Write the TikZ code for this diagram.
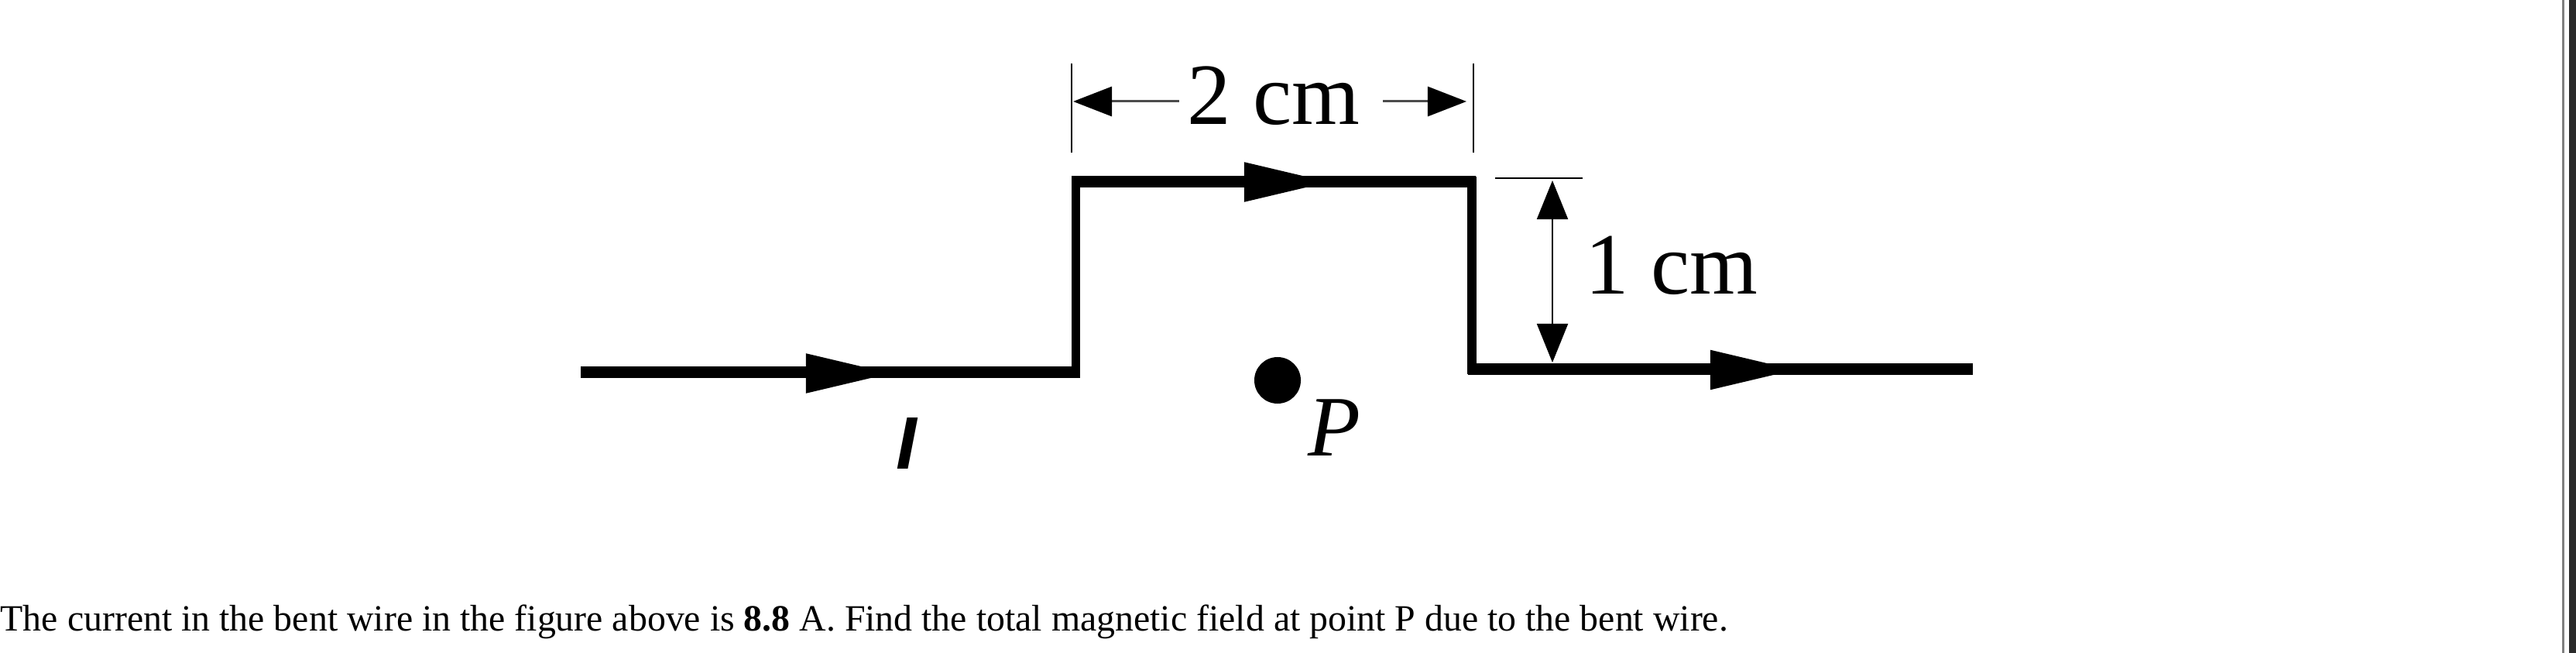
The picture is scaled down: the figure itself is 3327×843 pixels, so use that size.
\documentclass[tikz,border=0pt]{standalone}
\usepackage{fontspec}
\setmainfont{Liberation Serif}
\setsansfont{Liberation Sans}
\usetikzlibrary{arrows.meta}

\tikzset{
  wireh/.style={line width=0.14cm},
  wirev/.style={line width=0.112cm},
  wirehead/.style={-{Triangle[length=1.09cm,width=0.51cm]}, line width=0.02cm},
  dimhead/.style={-{Triangle[length=0.5cm,width=0.38cm,color=black]}, line width=0.03cm, black!70},
  tickline/.style={line width=0.02cm},
  dimlabel/.style={anchor=base west, inner sep=0pt, font=\fontsize{32.1}{36}\selectfont},
  pointdot/.style={circle, fill=black, inner sep=0pt, minimum size=0.6cm},
}

\begin{document}
\begin{tikzpicture}[x=0.01cm, y=-0.01cm]
    \useasboundingbox (0, 0) rectangle (3327, 843);

    % the bent wire
    \coordinate (inL) at (750, 480.5);
    \coordinate (inR) at (1395, 480.5);
    \coordinate (topL) at (1384, 234.5);
    \coordinate (topR) at (1906, 234.5);
    \coordinate (outL) at (1896, 476.5);
    \coordinate (outR) at (2548, 476.5);
    \coordinate (riseB) at (1389.5, 487);
    \coordinate (riseT) at (1389.5, 228);
    \coordinate (fallT) at (1901, 228);
    \coordinate (fallB) at (1901, 483);
    \draw[wireh] (inL) -- (inR);
    \draw[wireh] (topL) -- (topR);
    \draw[wireh] (outL) -- (outR);
    \draw[wirev] (riseB) -- (riseT);
    \draw[wirev] (fallT) -- (fallB);

    % current arrows
    \coordinate (tailA) at (1030, 482);
    \coordinate (headA) at (1150, 482);
    \coordinate (tailB) at (1596, 235);
    \coordinate (headB) at (1716, 235);
    \coordinate (tailC) at (2198, 477.5);
    \coordinate (headC) at (2318, 477.5);
    \draw[wirehead] (tailA) -- (headA);
    \draw[wirehead] (tailB) -- (headB);
    \draw[wirehead] (tailC) -- (headC);

    % width mark
    \coordinate (tickLa) at (1384, 82);
    \coordinate (tickLb) at (1384, 197);
    \coordinate (tickRa) at (1903, 82);
    \coordinate (tickRb) at (1903, 197);
    \draw[tickline] (tickLa) -- (tickLb);
    \draw[tickline] (tickRa) -- (tickRb);
    \node[dimlabel] (widthlabel) at (1533, 161) {2 cm};
    \coordinate (widthL) at (1523, 131);
    \coordinate (widthLtip) at (1386, 131);
    \coordinate (widthR) at (1786, 131);
    \coordinate (widthRtip) at (1894, 131);
    \draw[dimhead] (widthL) -- (widthLtip);
    \draw[dimhead] (widthR) -- (widthRtip);

    % height mark
    \coordinate (tickTa) at (1931, 230);
    \coordinate (tickTb) at (2044, 230);
    \draw[tickline] (tickTa) -- (tickTb);
    \coordinate (heightT) at (2005, 233);
    \coordinate (heightB) at (2005, 468);
    \draw[{Triangle[length=0.5cm,width=0.4cm]}-{Triangle[length=0.5cm,width=0.4cm]}, tickline] (heightT) -- (heightB);
    \node[dimlabel] (heightlabel) at (2047, 380) {1 cm};

    % point and current labels
    \node[pointdot] (pointP) at (1650, 491) {};
    \node[dimlabel, font=\fontsize{31.6}{36}\selectfont\itshape] (labelP) at (1689, 588) {P};
    \node[anchor=base west, inner sep=0pt, font=\fontsize{27.3}{32}\selectfont\sffamily\bfseries\itshape] (labelI) at (1157, 605) {I};

    \node[anchor=base west, inner sep=0pt, font=\fontsize{13.6}{16}\selectfont] (question) at (0, 814)
        {The current in the bent wire in the figure above is \textbf{8.8} A. Find the total magnetic field at point P due to the bent wire.};

    % window edge
    \fill[black!50] (3309, 0) rectangle (3312, 843);
    \fill[black!83] (3318, 0) rectangle (3327, 843);
  \end{tikzpicture}
\end{document}
